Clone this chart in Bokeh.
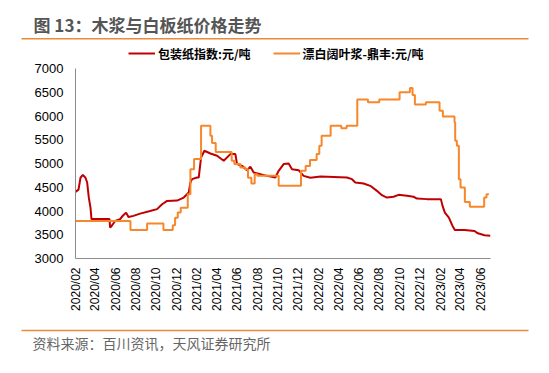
import pandas as pd
from datetime import datetime
from math import pi
from bokeh.plotting import figure
from bokeh.layouts import column
from bokeh.models import (Range1d, FixedTicker, DatetimeTickFormatter, Legend, LegendItem)
from bokeh.core.properties import value
from bokeh.embed import file_html
from bokeh.resources import INLINE

# ---------------- data ----------------
red_name = "包装纸指数:元/吨"
red_dates = ["2020-02-01", "2020-02-10", "2020-02-16", "2020-02-23", "2020-03-02", "2020-03-07",
             "2020-03-12", "2020-03-17", "2020-03-20", "2020-05-13", "2020-05-15", "2020-05-21",
             "2020-05-30", "2020-06-14", "2020-06-22", "2020-07-02", "2020-07-09", "2020-07-24",
             "2020-08-13", "2020-09-12", "2020-10-03", "2020-10-18", "2020-11-02", "2020-12-02",
             "2020-12-22", "2021-01-06", "2021-01-11", "2021-01-16", "2021-01-31", "2021-02-05",
             "2021-02-12", "2021-02-22", "2021-03-12", "2021-04-01", "2021-04-21", "2021-05-11",
             "2021-05-26", "2021-05-31", "2021-06-15", "2021-06-30", "2021-07-10", "2021-07-20",
             "2021-08-09", "2021-08-29", "2021-09-23", "2021-10-03", "2021-10-18", "2021-11-02",
             "2021-11-12", "2021-12-02", "2021-12-17", "2022-01-06", "2022-02-06", "2022-04-26",
             "2022-05-11", "2022-05-21", "2022-06-15", "2022-07-05", "2022-07-25", "2022-08-09",
             "2022-08-24", "2022-09-13", "2022-09-28", "2022-10-23", "2022-11-12", "2022-11-22",
             "2022-12-22", "2023-02-02", "2023-02-07", "2023-02-14", "2023-02-26", "2023-03-09",
             "2023-03-16", "2023-04-14", "2023-05-14", "2023-05-24", "2023-06-13", "2023-07-01"]
red_values = [4400, 4450, 4700, 4760, 4700, 4600,
              4280, 4070, 3830, 3830, 3650, 3700,
              3790, 3830, 3900, 3966, 3875, 3897,
              3945, 4000, 4040, 4143, 4213, 4220,
              4283, 4388, 4600, 4670, 4705, 4705,
              5127, 5268, 5211, 5162, 5057, 5198,
              5198, 4988, 4950, 4860, 4930, 4810,
              4776, 4740, 4705, 4846, 4988, 5000,
              4880, 4860, 4740, 4700, 4726, 4705,
              4670, 4600, 4580, 4530, 4424, 4333,
              4283, 4300, 4340, 4320, 4300, 4262,
              4250, 4250, 4108, 3966, 3860, 3686,
              3600, 3600, 3580, 3530, 3490, 3480]

orange_name = "漂白阔叶浆-鼎丰:元/吨"
orange_dates = ["2020-02-01", "2020-07-15", "2020-09-03", "2020-10-22", "2020-11-19", "2020-11-26",
                "2020-12-04", "2020-12-13", "2021-01-03", "2021-01-11", "2021-01-22", "2021-02-12",
                "2021-03-12", "2021-03-17", "2021-03-28", "2021-05-15", "2021-05-23", "2021-06-10",
                "2021-06-25", "2021-07-03", "2021-07-13", "2021-07-23", "2021-07-31", "2021-10-03",
                "2021-12-09", "2021-12-23", "2022-01-05", "2022-01-25", "2022-02-02", "2022-02-09",
                "2022-03-08", "2022-04-09", "2022-04-25", "2022-05-27", "2022-06-28", "2022-08-01",
                "2022-10-01", "2022-11-01", "2022-11-09", "2022-11-16", "2022-12-19", "2023-01-29",
                "2023-02-08", "2023-03-15", "2023-03-17", "2023-03-22", "2023-03-28", "2023-04-02",
                "2023-04-15", "2023-04-30", "2023-06-12", "2023-06-19", "2023-06-26"]
orange_values = [3790, 3600, 3735, 3600, 3700, 3860,
                 3966, 4070, 4354, 4880, 5093, 5796,
                 5585, 5430, 5240, 5057, 4988, 4917,
                 4880, 4700, 4580, 4776, 4740, 4530,
                 4846, 4950, 5075, 5198, 5374, 5585,
                 5796, 5740, 5796, 6345, 6290, 6345,
                 6500, 6590, 6443, 6240, 6290, 6112,
                 5992, 5866, 5480, 5374, 4670, 4494,
                 4192, 4087, 4283, 4354, 4354]

tick_months = pd.date_range("2020-02-01", "2023-06-01", freq="2MS")
y_ticks = [3000, 3500, 4000, 4500, 5000, 5500, 6000, 6500, 7000]

title_text = "图 13：木浆与白板纸价格走势"
source_text = "资料来源：百川资讯，天风证券研究所"

RED = "#C00000"
ORANGE = "#F7872B"
RULE = "#EC8A36"
W = 549
HEAD_H, MAIN_H, FOOT_H = 61, 261, 51


def blank(h):
    f = figure(width=W, height=h, output_backend="svg", toolbar_location=None,
               x_axis_type=None, y_axis_type=None,
               x_range=Range1d(0, W), y_range=Range1d(h, 0),
               min_border=0, min_border_left=0, min_border_right=0,
               min_border_top=0, min_border_bottom=0, frame_align=False)
    f.outline_line_color = None
    f.grid.visible = False
    return f


# ---------------- header: title, rule, legend ----------------
head = blank(HEAD_H)
head.text(x=[33], y=[24], text=[title_text], text_font=value("Noto Sans CJK SC"),
          text_font_style="bold", text_font_size="17px", text_color="#555555",
          text_baseline="middle", text_align="left")
head.segment(x0=[21], y0=[38.3], x1=[528], y1=[38.3], line_color=RULE, line_width=1.5)
# legend proxies (kept outside the visible range, only their style is used)
lr = head.line(x=[-50, -40], y=[-50, -50], line_color=RED, line_width=2)
lo = head.line(x=[-50, -40], y=[-50, -50], line_color=ORANGE, line_width=2)
legend = Legend(items=[LegendItem(label=red_name, renderers=[lr]),
                       LegendItem(label=orange_name, renderers=[lo])],
                orientation="horizontal", location=(128, -0.5),
                border_line_color=None, background_fill_alpha=0,
                padding=0, margin=0, spacing=22,
                glyph_width=27, glyph_height=12, label_height=12, label_standoff=3,
                label_text_font="Noto Sans CJK SC", label_text_font_style="bold",
                label_text_font_size="12px", label_text_color="#000000")
head.add_layout(legend, "center")

# ---------------- main chart ----------------
p = figure(width=W, height=MAIN_H, output_backend="svg", toolbar_location=None,
           x_axis_type="datetime",
           x_range=Range1d(datetime(2020, 2, 1), datetime(2023, 7, 1)),
           y_range=Range1d(3000, 7000),
           min_border_left=75, min_border_right=59, min_border_top=7, min_border_bottom=64,
           frame_align=False)
p.outline_line_color = None
p.grid.visible = False

rx = pd.to_datetime(red_dates)
ox = pd.to_datetime(orange_dates)
p.line(rx, red_values, line_color=RED, line_width=2)
p.step(ox, orange_values, mode="after", line_color=ORANGE, line_width=2)

for ax in (p.xaxis[0], p.yaxis[0]):
    ax.axis_line_color = "#8c8c8c"
    ax.axis_line_width = 1
    ax.major_tick_line_color = None
    ax.minor_tick_line_color = None
    ax.major_tick_in = 0
    ax.major_tick_out = 0
    ax.minor_tick_in = 0
    ax.minor_tick_out = 0
    ax.major_label_text_font = "Liberation Sans"
    ax.major_label_text_color = "#000000"

p.yaxis.ticker = FixedTicker(ticks=y_ticks)
p.yaxis.major_label_text_font_size = "13px"
p.yaxis.major_label_standoff = 12

p.xaxis.ticker = FixedTicker(ticks=[t.timestamp() * 1000 for t in tick_months])
fmt = "%Y/%m"
p.xaxis.formatter = DatetimeTickFormatter(microseconds=fmt, milliseconds=fmt, seconds=fmt,
                                          minsec=fmt, minutes=fmt, hourmin=fmt, hours=fmt,
                                          days=fmt, months=fmt, years=fmt)
p.xaxis.major_label_orientation = pi / 2
p.xaxis.major_label_text_font_size = "12px"
p.xaxis.major_label_standoff = 9

# ---------------- footer: rule, source ----------------
foot = blank(FOOT_H)
foot.segment(x0=[21], y0=[8], x1=[528], y1=[8], line_color=RULE, line_width=1.5)
foot.text(x=[32], y=[20], text=[source_text], text_font=value("Noto Sans CJK SC"),
          text_font_size="14px", text_color="#666666",
          text_baseline="middle", text_align="left")

layout = column(head, p, foot, spacing=0)
open("out.html", "w").write(file_html(layout, INLINE))
